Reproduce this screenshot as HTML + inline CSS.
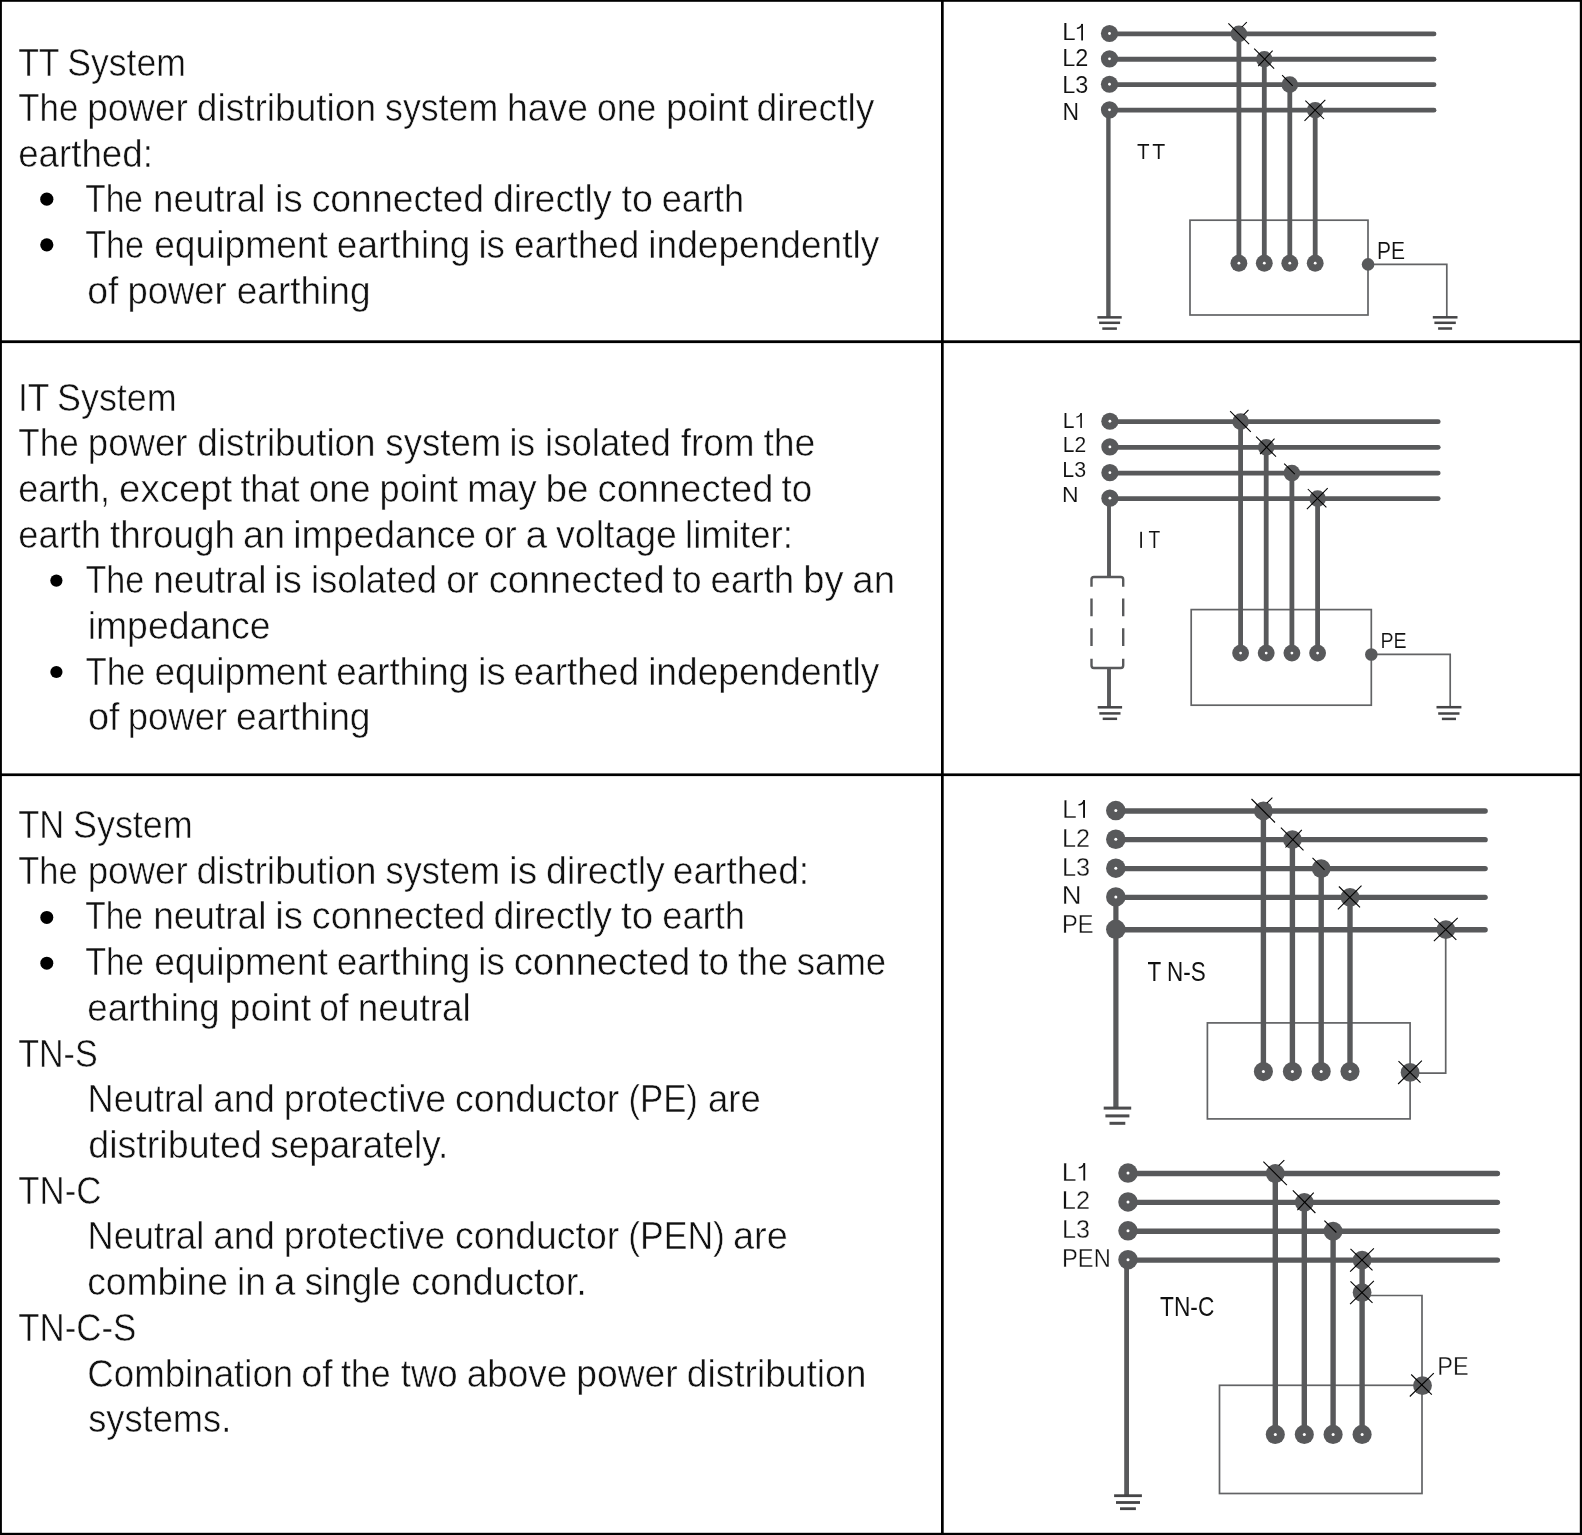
<!DOCTYPE html>
<html><head><meta charset="utf-8"><title>Earthing systems</title>
<style>
html,body{margin:0;padding:0;background:#fff;}
body{width:1582px;height:1535px;overflow:hidden;font-family:"Liberation Sans",sans-serif;}
svg{display:block;will-change:transform;}
text{font-family:"Liberation Sans",sans-serif;}
</style></head><body>
<svg width="1582" height="1535" viewBox="0 0 1582 1535">
<rect width="1582" height="1535" fill="#fff"/>
<!-- table frame -->
<g fill="#000">
<rect x="0" y="0" width="1582" height="1.8"/>
<rect x="0" y="0" width="1.9" height="1535"/>
<rect x="1579.8" y="0" width="2.2" height="1535"/>
<rect x="0" y="1532.8" width="1582" height="2.2"/>
<rect x="941" y="0" width="2.7" height="1535"/>
<rect x="0" y="340.3" width="1582" height="2.8"/>
<rect x="0" y="773.4" width="1582" height="2.7"/>
</g>
<!-- body text -->
<g font-size="38.0" fill="#111" stroke="#fff" stroke-width="0.5">
<text x="18.18" y="75.60" textLength="41.41" lengthAdjust="spacingAndGlyphs">TT</text>
<text x="67.18" y="75.60" textLength="118.68" lengthAdjust="spacingAndGlyphs">System</text>
<text x="18.25" y="121.20" textLength="60.04" lengthAdjust="spacingAndGlyphs">The</text>
<text x="87.31" y="121.20" textLength="100.56" lengthAdjust="spacingAndGlyphs">power</text>
<text x="196.80" y="121.20" textLength="179.27" lengthAdjust="spacingAndGlyphs">distribution</text>
<text x="385.07" y="121.20" textLength="113.09" lengthAdjust="spacingAndGlyphs">system</text>
<text x="507.05" y="121.20" textLength="80.90" lengthAdjust="spacingAndGlyphs">have</text>
<text x="596.99" y="121.20" textLength="59.25" lengthAdjust="spacingAndGlyphs">one</text>
<text x="665.97" y="121.20" textLength="82.54" lengthAdjust="spacingAndGlyphs">point</text>
<text x="756.43" y="121.20" textLength="118.03" lengthAdjust="spacingAndGlyphs">directly</text>
<text x="18.15" y="166.80" textLength="134.71" lengthAdjust="spacingAndGlyphs">earthed:</text>
<text x="85.31" y="212.40" textLength="57.65" lengthAdjust="spacingAndGlyphs">The</text>
<text x="153.11" y="212.40" textLength="112.20" lengthAdjust="spacingAndGlyphs">neutral</text>
<text x="275.06" y="212.40" textLength="27.77" lengthAdjust="spacingAndGlyphs">is</text>
<text x="311.64" y="212.40" textLength="172.49" lengthAdjust="spacingAndGlyphs">connected</text>
<text x="492.99" y="212.40" textLength="118.64" lengthAdjust="spacingAndGlyphs">directly</text>
<text x="621.56" y="212.40" textLength="31.32" lengthAdjust="spacingAndGlyphs">to</text>
<text x="661.69" y="212.40" textLength="82.54" lengthAdjust="spacingAndGlyphs">earth</text>
<text x="85.29" y="258.00" textLength="58.80" lengthAdjust="spacingAndGlyphs">The</text>
<text x="154.20" y="258.00" textLength="173.64" lengthAdjust="spacingAndGlyphs">equipment</text>
<text x="336.86" y="258.00" textLength="133.50" lengthAdjust="spacingAndGlyphs">earthing</text>
<text x="478.44" y="258.00" textLength="26.46" lengthAdjust="spacingAndGlyphs">is</text>
<text x="513.93" y="258.00" textLength="125.46" lengthAdjust="spacingAndGlyphs">earthed</text>
<text x="648.37" y="258.00" textLength="230.98" lengthAdjust="spacingAndGlyphs">independently</text>
<text x="87.21" y="303.60" textLength="31.14" lengthAdjust="spacingAndGlyphs">of</text>
<text x="127.44" y="303.60" textLength="99.24" lengthAdjust="spacingAndGlyphs">power</text>
<text x="236.68" y="303.60" textLength="133.89" lengthAdjust="spacingAndGlyphs">earthing</text>
<text x="17.91" y="410.50" textLength="31.52" lengthAdjust="spacingAndGlyphs">IT</text>
<text x="57.09" y="410.50" textLength="119.48" lengthAdjust="spacingAndGlyphs">System</text>
<text x="18.31" y="456.20" textLength="60.42" lengthAdjust="spacingAndGlyphs">The</text>
<text x="87.87" y="456.20" textLength="99.55" lengthAdjust="spacingAndGlyphs">power</text>
<text x="197.26" y="456.20" textLength="178.34" lengthAdjust="spacingAndGlyphs">distribution</text>
<text x="385.34" y="456.20" textLength="116.01" lengthAdjust="spacingAndGlyphs">system</text>
<text x="509.39" y="456.20" textLength="25.75" lengthAdjust="spacingAndGlyphs">is</text>
<text x="545.11" y="456.20" textLength="125.81" lengthAdjust="spacingAndGlyphs">isolated</text>
<text x="680.75" y="456.20" textLength="73.83" lengthAdjust="spacingAndGlyphs">from</text>
<text x="763.42" y="456.20" textLength="51.98" lengthAdjust="spacingAndGlyphs">the</text>
<text x="18.33" y="501.90" textLength="91.71" lengthAdjust="spacingAndGlyphs">earth,</text>
<text x="119.13" y="501.90" textLength="113.15" lengthAdjust="spacingAndGlyphs">except</text>
<text x="240.42" y="501.90" textLength="59.22" lengthAdjust="spacingAndGlyphs">that</text>
<text x="308.71" y="501.90" textLength="61.80" lengthAdjust="spacingAndGlyphs">one</text>
<text x="379.62" y="501.90" textLength="78.55" lengthAdjust="spacingAndGlyphs">point</text>
<text x="467.25" y="501.90" textLength="69.38" lengthAdjust="spacingAndGlyphs">may</text>
<text x="545.51" y="501.90" textLength="43.20" lengthAdjust="spacingAndGlyphs">be</text>
<text x="597.58" y="501.90" textLength="175.94" lengthAdjust="spacingAndGlyphs">connected</text>
<text x="781.52" y="501.90" textLength="30.58" lengthAdjust="spacingAndGlyphs">to</text>
<text x="18.29" y="547.60" textLength="82.75" lengthAdjust="spacingAndGlyphs">earth</text>
<text x="110.11" y="547.60" textLength="125.02" lengthAdjust="spacingAndGlyphs">through</text>
<text x="243.02" y="547.60" textLength="42.23" lengthAdjust="spacingAndGlyphs">an</text>
<text x="293.29" y="547.60" textLength="182.78" lengthAdjust="spacingAndGlyphs">impedance</text>
<text x="484.11" y="547.60" textLength="32.47" lengthAdjust="spacingAndGlyphs">or</text>
<text x="525.54" y="547.60" textLength="21.62" lengthAdjust="spacingAndGlyphs">a</text>
<text x="556.12" y="547.60" textLength="120.85" lengthAdjust="spacingAndGlyphs">voltage</text>
<text x="685.01" y="547.60" textLength="108.01" lengthAdjust="spacingAndGlyphs">limiter:</text>
<text x="85.46" y="593.30" textLength="58.75" lengthAdjust="spacingAndGlyphs">The</text>
<text x="153.29" y="593.30" textLength="113.14" lengthAdjust="spacingAndGlyphs">neutral</text>
<text x="274.29" y="593.30" textLength="27.60" lengthAdjust="spacingAndGlyphs">is</text>
<text x="310.88" y="593.30" textLength="126.28" lengthAdjust="spacingAndGlyphs">isolated</text>
<text x="446.14" y="593.30" textLength="32.64" lengthAdjust="spacingAndGlyphs">or</text>
<text x="488.63" y="593.30" textLength="176.04" lengthAdjust="spacingAndGlyphs">connected</text>
<text x="672.58" y="593.30" textLength="28.87" lengthAdjust="spacingAndGlyphs">to</text>
<text x="710.60" y="593.30" textLength="83.69" lengthAdjust="spacingAndGlyphs">earth</text>
<text x="803.20" y="593.30" textLength="40.30" lengthAdjust="spacingAndGlyphs">by</text>
<text x="852.35" y="593.30" textLength="42.88" lengthAdjust="spacingAndGlyphs">an</text>
<text x="87.65" y="639.00" textLength="182.98" lengthAdjust="spacingAndGlyphs">impedance</text>
<text x="85.44" y="684.70" textLength="59.94" lengthAdjust="spacingAndGlyphs">The</text>
<text x="154.49" y="684.70" textLength="172.80" lengthAdjust="spacingAndGlyphs">equipment</text>
<text x="336.32" y="684.70" textLength="132.71" lengthAdjust="spacingAndGlyphs">earthing</text>
<text x="477.90" y="684.70" textLength="27.69" lengthAdjust="spacingAndGlyphs">is</text>
<text x="513.57" y="684.70" textLength="125.48" lengthAdjust="spacingAndGlyphs">earthed</text>
<text x="648.14" y="684.70" textLength="231.21" lengthAdjust="spacingAndGlyphs">independently</text>
<text x="87.91" y="730.40" textLength="31.65" lengthAdjust="spacingAndGlyphs">of</text>
<text x="127.70" y="730.40" textLength="99.39" lengthAdjust="spacingAndGlyphs">power</text>
<text x="236.10" y="730.40" textLength="134.43" lengthAdjust="spacingAndGlyphs">earthing</text>
<text x="18.21" y="838.00" textLength="46.02" lengthAdjust="spacingAndGlyphs">TN</text>
<text x="72.96" y="838.00" textLength="119.81" lengthAdjust="spacingAndGlyphs">System</text>
<text x="18.27" y="883.72" textLength="59.25" lengthAdjust="spacingAndGlyphs">The</text>
<text x="87.63" y="883.72" textLength="100.04" lengthAdjust="spacingAndGlyphs">power</text>
<text x="196.56" y="883.72" textLength="180.00" lengthAdjust="spacingAndGlyphs">distribution</text>
<text x="385.59" y="883.72" textLength="114.60" lengthAdjust="spacingAndGlyphs">system</text>
<text x="508.97" y="883.72" textLength="28.18" lengthAdjust="spacingAndGlyphs">is</text>
<text x="546.09" y="883.72" textLength="118.73" lengthAdjust="spacingAndGlyphs">directly</text>
<text x="672.76" y="883.72" textLength="136.44" lengthAdjust="spacingAndGlyphs">earthed:</text>
<text x="85.31" y="929.44" textLength="57.70" lengthAdjust="spacingAndGlyphs">The</text>
<text x="153.16" y="929.44" textLength="113.24" lengthAdjust="spacingAndGlyphs">neutral</text>
<text x="275.27" y="929.44" textLength="27.74" lengthAdjust="spacingAndGlyphs">is</text>
<text x="311.85" y="929.44" textLength="173.55" lengthAdjust="spacingAndGlyphs">connected</text>
<text x="493.38" y="929.44" textLength="118.75" lengthAdjust="spacingAndGlyphs">directly</text>
<text x="621.10" y="929.44" textLength="32.13" lengthAdjust="spacingAndGlyphs">to</text>
<text x="662.21" y="929.44" textLength="82.80" lengthAdjust="spacingAndGlyphs">earth</text>
<text x="85.29" y="975.16" textLength="58.78" lengthAdjust="spacingAndGlyphs">The</text>
<text x="154.18" y="975.16" textLength="173.59" lengthAdjust="spacingAndGlyphs">equipment</text>
<text x="336.78" y="975.16" textLength="133.46" lengthAdjust="spacingAndGlyphs">earthing</text>
<text x="478.32" y="975.16" textLength="26.45" lengthAdjust="spacingAndGlyphs">is</text>
<text x="513.72" y="975.16" textLength="176.71" lengthAdjust="spacingAndGlyphs">connected</text>
<text x="698.38" y="975.16" textLength="30.51" lengthAdjust="spacingAndGlyphs">to</text>
<text x="737.99" y="975.16" textLength="49.83" lengthAdjust="spacingAndGlyphs">the</text>
<text x="796.85" y="975.16" textLength="89.33" lengthAdjust="spacingAndGlyphs">same</text>
<text x="87.28" y="1020.88" textLength="132.35" lengthAdjust="spacingAndGlyphs">earthing</text>
<text x="229.55" y="1020.88" textLength="81.70" lengthAdjust="spacingAndGlyphs">point</text>
<text x="319.36" y="1020.88" textLength="29.44" lengthAdjust="spacingAndGlyphs">of</text>
<text x="357.80" y="1020.88" textLength="113.03" lengthAdjust="spacingAndGlyphs">neutral</text>
<text x="18.18" y="1066.60" textLength="79.46" lengthAdjust="spacingAndGlyphs">TN-S</text>
<text x="87.51" y="1112.32" textLength="116.69" lengthAdjust="spacingAndGlyphs">Neutral</text>
<text x="213.19" y="1112.32" textLength="61.58" lengthAdjust="spacingAndGlyphs">and</text>
<text x="283.64" y="1112.32" textLength="162.41" lengthAdjust="spacingAndGlyphs">protective</text>
<text x="454.98" y="1112.32" textLength="164.32" lengthAdjust="spacingAndGlyphs">conductor</text>
<text x="628.53" y="1112.32" textLength="69.37" lengthAdjust="spacingAndGlyphs">(PE)</text>
<text x="707.97" y="1112.32" textLength="52.73" lengthAdjust="spacingAndGlyphs">are</text>
<text x="88.25" y="1158.04" textLength="173.63" lengthAdjust="spacingAndGlyphs">distributed</text>
<text x="270.16" y="1158.04" textLength="178.13" lengthAdjust="spacingAndGlyphs">separately.</text>
<text x="18.21" y="1203.76" textLength="83.24" lengthAdjust="spacingAndGlyphs">TN-C</text>
<text x="87.51" y="1249.48" textLength="116.73" lengthAdjust="spacingAndGlyphs">Neutral</text>
<text x="213.24" y="1249.48" textLength="61.61" lengthAdjust="spacingAndGlyphs">and</text>
<text x="283.73" y="1249.48" textLength="161.44" lengthAdjust="spacingAndGlyphs">protective</text>
<text x="455.09" y="1249.48" textLength="164.06" lengthAdjust="spacingAndGlyphs">conductor</text>
<text x="628.14" y="1249.48" textLength="96.77" lengthAdjust="spacingAndGlyphs">(PEN)</text>
<text x="732.98" y="1249.48" textLength="54.83" lengthAdjust="spacingAndGlyphs">are</text>
<text x="87.28" y="1295.20" textLength="140.62" lengthAdjust="spacingAndGlyphs">combine</text>
<text x="237.08" y="1295.20" textLength="28.90" lengthAdjust="spacingAndGlyphs">in</text>
<text x="274.14" y="1295.20" textLength="21.39" lengthAdjust="spacingAndGlyphs">a</text>
<text x="304.64" y="1295.20" textLength="96.39" lengthAdjust="spacingAndGlyphs">single</text>
<text x="411.17" y="1295.20" textLength="175.75" lengthAdjust="spacingAndGlyphs">conductor.</text>
<text x="18.20" y="1340.92" textLength="118.16" lengthAdjust="spacingAndGlyphs">TN-C-S</text>
<text x="87.29" y="1386.64" textLength="205.89" lengthAdjust="spacingAndGlyphs">Combination</text>
<text x="301.23" y="1386.64" textLength="31.54" lengthAdjust="spacingAndGlyphs">of</text>
<text x="340.91" y="1386.64" textLength="49.86" lengthAdjust="spacingAndGlyphs">the</text>
<text x="400.78" y="1386.64" textLength="56.93" lengthAdjust="spacingAndGlyphs">two</text>
<text x="466.68" y="1386.64" textLength="100.59" lengthAdjust="spacingAndGlyphs">above</text>
<text x="576.23" y="1386.64" textLength="101.51" lengthAdjust="spacingAndGlyphs">power</text>
<text x="686.77" y="1386.64" textLength="179.65" lengthAdjust="spacingAndGlyphs">distribution</text>
<text x="88.26" y="1432.36" textLength="142.99" lengthAdjust="spacingAndGlyphs">systems.</text>
</g>
<g fill="#000">
<circle cx="46.8" cy="199.2" r="6.6"/>
<circle cx="46.8" cy="244.8" r="6.6"/>
<circle cx="56.4" cy="580.6" r="6.1"/>
<circle cx="56.4" cy="672.0" r="6.1"/>
<circle cx="46.8" cy="917.4" r="6.5"/>
<circle cx="46.8" cy="963.2" r="6.5"/>
</g>
<!-- TT diagram -->
<g stroke="#626365" stroke-width="1.7" fill="none"><rect x="1190" y="220.2" width="178.0" height="94.8"/><path d="M1368 264.4H1446.8V317"/></g>
<line x1="1108.4" y1="110.2" x2="1108.4" y2="317" stroke="#58595b" stroke-width="4.4"/>
<g stroke="#58595b" stroke-width="4.8" stroke-linecap="round" fill="none"><line x1="1109.5" y1="33.90" x2="1434.0" y2="33.90"/><line x1="1109.5" y1="59.25" x2="1434.0" y2="59.25"/><line x1="1109.5" y1="84.65" x2="1434.0" y2="84.65"/><line x1="1109.5" y1="110.20" x2="1434.0" y2="110.20"/></g><g stroke="#58595b" stroke-width="4.8" fill="none"><line x1="1238.9" y1="33.90" x2="1238.9" y2="263.2"/><line x1="1264.3" y1="59.25" x2="1264.3" y2="263.2"/><line x1="1289.8" y1="84.65" x2="1289.8" y2="263.2"/><line x1="1315.2" y1="110.20" x2="1315.2" y2="263.2"/></g><g fill="#58595b"><circle cx="1109.5" cy="33.50" r="8.6"/><circle cx="1109.5" cy="58.85" r="8.6"/><circle cx="1109.5" cy="84.25" r="8.6"/><circle cx="1109.5" cy="109.80" r="8.6"/><circle cx="1238.9" cy="33.90" r="8.30"/><circle cx="1238.9" cy="263.2" r="8.43"/><circle cx="1264.3" cy="59.25" r="8.30"/><circle cx="1264.3" cy="263.2" r="8.43"/><circle cx="1289.8" cy="84.65" r="8.30"/><circle cx="1289.8" cy="263.2" r="8.43"/><circle cx="1315.2" cy="110.20" r="8.30"/><circle cx="1315.2" cy="263.2" r="8.43"/></g><g fill="#fff"><circle cx="1109.5" cy="33.50" r="1.4"/><circle cx="1109.5" cy="58.85" r="1.4"/><circle cx="1109.5" cy="84.25" r="1.4"/><circle cx="1109.5" cy="109.80" r="1.4"/><circle cx="1238.9" cy="263.2" r="1.4"/><circle cx="1264.3" cy="263.2" r="1.4"/><circle cx="1289.8" cy="263.2" r="1.4"/><circle cx="1315.2" cy="263.2" r="1.4"/></g>
<circle cx="1368.05" cy="264.4" r="6.3" fill="#58595b"/>
<g fill="#454547"><rect x="1097.4" y="316.10" width="24.3" height="2.5"/><rect x="1099.1" y="321.55" width="21.0" height="2.5"/><rect x="1102.3" y="327.35" width="14.6" height="2.5"/><rect x="1432.8" y="316.05" width="24.7" height="2.5"/><rect x="1434.4" y="321.55" width="21.4" height="2.5"/><rect x="1438.1" y="327.25" width="14.0" height="2.5"/></g>
<g stroke="#000" stroke-width="1.05" fill="none">
<line x1="1228.4" y1="23.4" x2="1249.1" y2="44.1"/><line x1="1241.9" y1="27.0" x2="1246.8" y2="22.1"/>
<line x1="1254.2" y1="48.6" x2="1274.1" y2="68.7"/><line x1="1258.2" y1="66.2" x2="1272.6" y2="50.6"/>
<line x1="1282.1" y1="75.2" x2="1292.7" y2="85.8"/>
<line x1="1305.4" y1="100.6" x2="1324.0" y2="119.0"/><line x1="1304.5" y1="120.8" x2="1325.3" y2="99.8"/>
</g>
<!-- IT diagram -->
<g stroke="#626365" stroke-width="1.7" fill="none"><rect x="1191.2" y="609.6" width="180.1" height="95.6"/><path d="M1371.3 654.4H1450.2V707"/></g>
<g stroke="#58595b" stroke-width="3.9" fill="none"><line x1="1109" y1="498.6" x2="1109" y2="577"/><line x1="1109" y1="668" x2="1109" y2="707.3"/></g>
<g stroke="#58595b" stroke-width="2.4" fill="none" stroke-linecap="butt"><path d="M1091.5 586.7V579.4Q1091.5 577 1093.9 577H1120.8Q1123.2 577 1123.2 579.4V586.7"/><path d="M1091.5 658.7V665.6Q1091.5 668 1093.9 668H1120.8Q1123.2 668 1123.2 665.6V658.7"/><path d="M1091.5 598.5V616.3M1091.5 628.2V646M1123.2 598.5V616.3M1123.2 628.2V646"/></g>
<g stroke="#58595b" stroke-width="4.8" stroke-linecap="round" fill="none"><line x1="1109.9" y1="421.65" x2="1438.2" y2="421.65"/><line x1="1109.9" y1="447.30" x2="1438.2" y2="447.30"/><line x1="1109.9" y1="473.10" x2="1438.2" y2="473.10"/><line x1="1109.9" y1="498.60" x2="1438.2" y2="498.60"/></g><g stroke="#58595b" stroke-width="4.8" fill="none"><line x1="1240.6" y1="421.65" x2="1240.6" y2="653.1"/><line x1="1266.2" y1="447.30" x2="1266.2" y2="653.1"/><line x1="1291.9" y1="473.10" x2="1291.9" y2="653.1"/><line x1="1317.6" y1="498.60" x2="1317.6" y2="653.1"/></g><g fill="#58595b"><circle cx="1109.9" cy="421.25" r="8.6"/><circle cx="1109.9" cy="446.90" r="8.6"/><circle cx="1109.9" cy="472.70" r="8.6"/><circle cx="1109.9" cy="498.20" r="8.6"/><circle cx="1240.6" cy="421.65" r="8.30"/><circle cx="1240.6" cy="653.1" r="8.43"/><circle cx="1266.2" cy="447.30" r="8.30"/><circle cx="1266.2" cy="653.1" r="8.43"/><circle cx="1291.9" cy="473.10" r="8.30"/><circle cx="1291.9" cy="653.1" r="8.43"/><circle cx="1317.6" cy="498.60" r="8.30"/><circle cx="1317.6" cy="653.1" r="8.43"/></g><g fill="#fff"><circle cx="1109.9" cy="421.25" r="1.4"/><circle cx="1109.9" cy="446.90" r="1.4"/><circle cx="1109.9" cy="472.70" r="1.4"/><circle cx="1109.9" cy="498.20" r="1.4"/><circle cx="1240.6" cy="653.1" r="1.4"/><circle cx="1266.2" cy="653.1" r="1.4"/><circle cx="1291.9" cy="653.1" r="1.4"/><circle cx="1317.6" cy="653.1" r="1.4"/></g>
<circle cx="1371.3" cy="654.5" r="6.3" fill="#58595b"/>
<g fill="#454547"><rect x="1097.7" y="706.05" width="24.4" height="2.5"/><rect x="1099.3" y="712.15" width="21.2" height="2.5"/><rect x="1102.7" y="717.55" width="14.4" height="2.5"/><rect x="1436.5" y="705.95" width="24.9" height="2.5"/><rect x="1438.2" y="712.25" width="21.3" height="2.5"/><rect x="1441.9" y="717.65" width="14.1" height="2.5"/></g>
<g stroke="#000" stroke-width="1.05" fill="none">
<line x1="1230.1" y1="411.1" x2="1250.8" y2="431.8"/><line x1="1243.6" y1="414.8" x2="1248.5" y2="409.8"/>
<line x1="1256.1" y1="436.7" x2="1276.0" y2="456.7"/><line x1="1260.1" y1="454.2" x2="1274.5" y2="438.7"/>
<line x1="1284.2" y1="463.7" x2="1294.8" y2="474.2"/>
<line x1="1307.8" y1="489.0" x2="1326.4" y2="507.4"/><line x1="1306.9" y1="509.2" x2="1327.7" y2="488.2"/>
</g>
<!-- TN-S diagram -->
<g stroke="#626365" stroke-width="1.7" fill="none"><rect x="1207.4" y="1022.9" width="202.7" height="96.0"/><path d="M1445.7 929.7V1073.1H1410.1"/></g>
<line x1="1115.9" y1="897.3" x2="1115.9" y2="1108" stroke="#58595b" stroke-width="5.2"/>
<g stroke="#58595b" stroke-width="5.4" stroke-linecap="round" fill="none"><line x1="1115.8" y1="810.95" x2="1485.1" y2="810.95"/><line x1="1115.8" y1="839.65" x2="1485.1" y2="839.65"/><line x1="1115.8" y1="868.60" x2="1485.1" y2="868.60"/><line x1="1115.8" y1="897.35" x2="1485.1" y2="897.35"/><line x1="1115.8" y1="929.70" x2="1485.1" y2="929.70"/></g><g stroke="#58595b" stroke-width="5.4" fill="none"><line x1="1263.4" y1="810.95" x2="1263.4" y2="1071.6"/><line x1="1292.4" y1="839.65" x2="1292.4" y2="1071.6"/><line x1="1321.2" y1="868.60" x2="1321.2" y2="1071.6"/><line x1="1350.0" y1="897.35" x2="1350.0" y2="1071.6"/></g><g fill="#58595b"><circle cx="1115.8" cy="810.55" r="9.75"/><circle cx="1115.8" cy="839.25" r="9.75"/><circle cx="1115.8" cy="868.20" r="9.75"/><circle cx="1115.8" cy="896.95" r="9.75"/><circle cx="1115.8" cy="929.30" r="9.75"/><circle cx="1263.4" cy="810.95" r="9.41"/><circle cx="1263.4" cy="1071.6" r="9.55"/><circle cx="1292.4" cy="839.65" r="9.41"/><circle cx="1292.4" cy="1071.6" r="9.55"/><circle cx="1321.2" cy="868.60" r="9.41"/><circle cx="1321.2" cy="1071.6" r="9.55"/><circle cx="1350.0" cy="897.35" r="9.41"/><circle cx="1350.0" cy="1071.6" r="9.55"/></g><g fill="#fff"><circle cx="1115.8" cy="810.55" r="1.5"/><circle cx="1115.8" cy="839.25" r="1.5"/><circle cx="1115.8" cy="868.20" r="1.5"/><circle cx="1115.8" cy="896.95" r="1.5"/><circle cx="1263.4" cy="1071.6" r="1.5"/><circle cx="1292.4" cy="1071.6" r="1.5"/><circle cx="1321.2" cy="1071.6" r="1.5"/><circle cx="1350.0" cy="1071.6" r="1.5"/></g>
<g fill="#58595b"><circle cx="1445.9" cy="929.6" r="9.4"/><circle cx="1410.1" cy="1072.4" r="9.4"/></g>
<g fill="#4c4c4e"><rect x="1103.7" y="1106.60" width="27.5" height="3.0"/><rect x="1105.4" y="1114.40" width="24.0" height="3.0"/><rect x="1109.5" y="1121.80" width="15.8" height="3.0"/></g>
<g stroke="#000" stroke-width="1.08" fill="none">
<line x1="1251.5" y1="799.0" x2="1275.0" y2="822.5"/><line x1="1266.8" y1="803.1" x2="1272.4" y2="797.6"/>
<line x1="1280.9" y1="827.6" x2="1303.5" y2="850.3"/><line x1="1285.5" y1="847.5" x2="1301.8" y2="829.9"/>
<line x1="1312.5" y1="857.9" x2="1324.5" y2="869.8"/>
<line x1="1338.9" y1="886.5" x2="1360.0" y2="907.3"/><line x1="1337.9" y1="909.4" x2="1361.5" y2="885.6"/>
<line x1="1434.3" y1="918.3" x2="1456.3" y2="939.8"/><line x1="1433.9" y1="941.2" x2="1457.7" y2="917.8"/>
<line x1="1398.5" y1="1061.1" x2="1420.5" y2="1082.6"/><line x1="1398.1" y1="1084.0" x2="1421.9" y2="1060.6"/>
</g>
<!-- TN-C diagram -->
<g stroke="#626365" stroke-width="1.7" fill="none"><rect x="1219.5" y="1385.3" width="202.5" height="108.2"/><path d="M1362.1 1295.5H1422.0V1385.3"/></g>
<line x1="1126.6" y1="1260.1" x2="1126.6" y2="1495.5" stroke="#58595b" stroke-width="4.8"/>
<g stroke="#58595b" stroke-width="5.4" stroke-linecap="round" fill="none"><line x1="1128.0" y1="1173.50" x2="1497.4" y2="1173.50"/><line x1="1128.0" y1="1202.35" x2="1497.4" y2="1202.35"/><line x1="1128.0" y1="1231.25" x2="1497.4" y2="1231.25"/><line x1="1128.0" y1="1260.10" x2="1497.4" y2="1260.10"/></g><g stroke="#58595b" stroke-width="5.4" fill="none"><line x1="1275.3" y1="1173.50" x2="1275.3" y2="1434.4"/><line x1="1304.3" y1="1202.35" x2="1304.3" y2="1434.4"/><line x1="1333.1" y1="1231.25" x2="1333.1" y2="1434.4"/><line x1="1362.1" y1="1260.10" x2="1362.1" y2="1434.4"/></g><g fill="#58595b"><circle cx="1128.0" cy="1173.10" r="9.75"/><circle cx="1128.0" cy="1201.95" r="9.75"/><circle cx="1128.0" cy="1230.85" r="9.75"/><circle cx="1128.0" cy="1259.70" r="9.75"/><circle cx="1275.3" cy="1173.50" r="9.41"/><circle cx="1275.3" cy="1434.4" r="9.55"/><circle cx="1304.3" cy="1202.35" r="9.41"/><circle cx="1304.3" cy="1434.4" r="9.55"/><circle cx="1333.1" cy="1231.25" r="9.41"/><circle cx="1333.1" cy="1434.4" r="9.55"/><circle cx="1362.1" cy="1260.10" r="9.41"/><circle cx="1362.1" cy="1434.4" r="9.55"/></g><g fill="#fff"><circle cx="1128.0" cy="1173.10" r="1.5"/><circle cx="1128.0" cy="1201.95" r="1.5"/><circle cx="1128.0" cy="1230.85" r="1.5"/><circle cx="1128.0" cy="1259.70" r="1.5"/><circle cx="1275.3" cy="1434.4" r="1.5"/><circle cx="1304.3" cy="1434.4" r="1.5"/><circle cx="1333.1" cy="1434.4" r="1.5"/><circle cx="1362.1" cy="1434.4" r="1.5"/></g>
<g fill="#58595b"><circle cx="1362.1" cy="1292.6" r="9.4"/><circle cx="1422.5" cy="1385.6" r="9.4"/></g>
<g fill="#454547"><rect x="1114.1" y="1494.30" width="27.8" height="2.8"/><rect x="1116.0" y="1501.10" width="24.0" height="2.8"/><rect x="1120.0" y="1507.30" width="15.9" height="2.8"/></g>
<g stroke="#000" stroke-width="1.08" fill="none">
<line x1="1263.4" y1="1161.6" x2="1286.9" y2="1185.1"/><line x1="1278.7" y1="1165.7" x2="1284.3" y2="1160.1"/>
<line x1="1292.8" y1="1190.3" x2="1315.4" y2="1213.0"/><line x1="1297.4" y1="1210.2" x2="1313.7" y2="1192.6"/>
<line x1="1324.4" y1="1220.6" x2="1336.4" y2="1232.5"/>
<line x1="1350.5" y1="1248.8" x2="1372.5" y2="1270.3"/><line x1="1350.1" y1="1271.7" x2="1373.9" y2="1248.3"/>
<line x1="1350.5" y1="1281.3" x2="1372.5" y2="1302.8"/><line x1="1350.1" y1="1304.2" x2="1373.9" y2="1280.8"/>
<line x1="1411.2" y1="1374.5" x2="1431.8" y2="1394.7"/><line x1="1409.8" y1="1396.5" x2="1433.8" y2="1373.2"/>
</g>
<!-- diagram labels -->
<g fill="#111">
<text x="1062.33" y="40.40" font-size="24.0" textLength="13.38" lengthAdjust="spacingAndGlyphs" stroke="#fff" stroke-width="0.1">L</text>
<text x="1062.23" y="66.10" font-size="24.0" textLength="26.11" lengthAdjust="spacingAndGlyphs" stroke="#fff" stroke-width="0.1">L2</text>
<text x="1062.23" y="92.70" font-size="24.0" textLength="26.11" lengthAdjust="spacingAndGlyphs" stroke="#fff" stroke-width="0.1">L3</text>
<text x="1062.41" y="119.65" font-size="24.0" textLength="16.57" lengthAdjust="spacingAndGlyphs" stroke="#fff" stroke-width="0.1">N</text>
<text x="1137.03" y="159.10" font-size="22.8" textLength="12.56" lengthAdjust="spacingAndGlyphs" stroke="#fff" stroke-width="0.1">T</text>
<text x="1152.37" y="159.10" font-size="22.8" textLength="13.05" lengthAdjust="spacingAndGlyphs" stroke="#fff" stroke-width="0.1">T</text>
<text x="1377.06" y="258.70" font-size="23.8" textLength="28.04" lengthAdjust="spacingAndGlyphs" stroke="#fff" stroke-width="0.1">PE</text>
<text x="1062.84" y="427.90" font-size="21.5" textLength="11.82" lengthAdjust="spacingAndGlyphs" stroke="#fff" stroke-width="0.1">L</text>
<text x="1062.68" y="452.40" font-size="21.6" textLength="23.42" lengthAdjust="spacingAndGlyphs" stroke="#fff" stroke-width="0.1">L2</text>
<text x="1062.28" y="476.90" font-size="21.6" textLength="23.83" lengthAdjust="spacingAndGlyphs" stroke="#fff" stroke-width="0.1">L3</text>
<text x="1062.08" y="501.95" font-size="21.6" textLength="16.63" lengthAdjust="spacingAndGlyphs" stroke="#fff" stroke-width="0.1">N</text>
<text x="1148.62" y="547.90" font-size="23.8" textLength="11.76" lengthAdjust="spacingAndGlyphs" stroke="#fff" stroke-width="0.1">T</text>
<text x="1380.54" y="648.30" font-size="22.0" textLength="26.16" lengthAdjust="spacingAndGlyphs" stroke="#fff" stroke-width="0.1">PE</text>
<text x="1062.08" y="817.80" font-size="25.6" textLength="14.85" lengthAdjust="spacingAndGlyphs" stroke="#fff" stroke-width="0.3">L</text>
<text x="1062.03" y="846.90" font-size="25.6" textLength="27.93" lengthAdjust="spacingAndGlyphs" stroke="#fff" stroke-width="0.3">L2</text>
<text x="1062.05" y="875.60" font-size="25.6" textLength="28.09" lengthAdjust="spacingAndGlyphs" stroke="#fff" stroke-width="0.3">L3</text>
<text x="1061.83" y="903.60" font-size="25.6" textLength="19.78" lengthAdjust="spacingAndGlyphs" stroke="#fff" stroke-width="0.3">N</text>
<text x="1062.06" y="933.10" font-size="25.6" textLength="31.49" lengthAdjust="spacingAndGlyphs" stroke="#fff" stroke-width="0.3">PE</text>
<text x="1147.52" y="980.90" font-size="27.8" textLength="58.19" lengthAdjust="spacingAndGlyphs">T N-S</text>
<text x="1061.79" y="1180.50" font-size="25.1" textLength="14.78" lengthAdjust="spacingAndGlyphs" stroke="#fff" stroke-width="0.3">L</text>
<text x="1061.79" y="1209.00" font-size="25.1" textLength="28.22" lengthAdjust="spacingAndGlyphs" stroke="#fff" stroke-width="0.3">L2</text>
<text x="1062.04" y="1238.40" font-size="25.1" textLength="27.89" lengthAdjust="spacingAndGlyphs" stroke="#fff" stroke-width="0.3">L3</text>
<text x="1062.02" y="1266.90" font-size="25.1" textLength="48.74" lengthAdjust="spacingAndGlyphs" stroke="#fff" stroke-width="0.3">PEN</text>
<text x="1160.11" y="1316.00" font-size="27.2" textLength="54.18" lengthAdjust="spacingAndGlyphs">TN-C</text>
<text x="1437.24" y="1374.80" font-size="25.0" textLength="31.29" lengthAdjust="spacingAndGlyphs" stroke="#fff" stroke-width="0.3">PE</text>
<rect x="1081.21" y="23.90" width="1.79" height="16.55"/>
<path d="M1076.88 28.37Q1080.85 28.04 1082.09 24.23" fill="none" stroke="#111" stroke-width="1.32"/>
<rect x="1080.30" y="413.10" width="1.60" height="14.85"/>
<path d="M1076.41 417.11Q1079.97 416.81 1081.08 413.40" fill="none" stroke="#111" stroke-width="1.19"/>
<rect x="1083.08" y="800.10" width="1.92" height="17.75"/>
<path d="M1078.43 804.89Q1082.69 804.54 1084.02 800.46" fill="none" stroke="#111" stroke-width="1.42"/>
<rect x="1083.32" y="1163.10" width="1.88" height="17.45"/>
<path d="M1078.74 1167.81Q1082.93 1167.46 1084.24 1163.45" fill="none" stroke="#111" stroke-width="1.40"/>
<rect x="1140.25" y="531.8" width="1.7" height="16.1"/>
</g>
</svg>
</body></html>
